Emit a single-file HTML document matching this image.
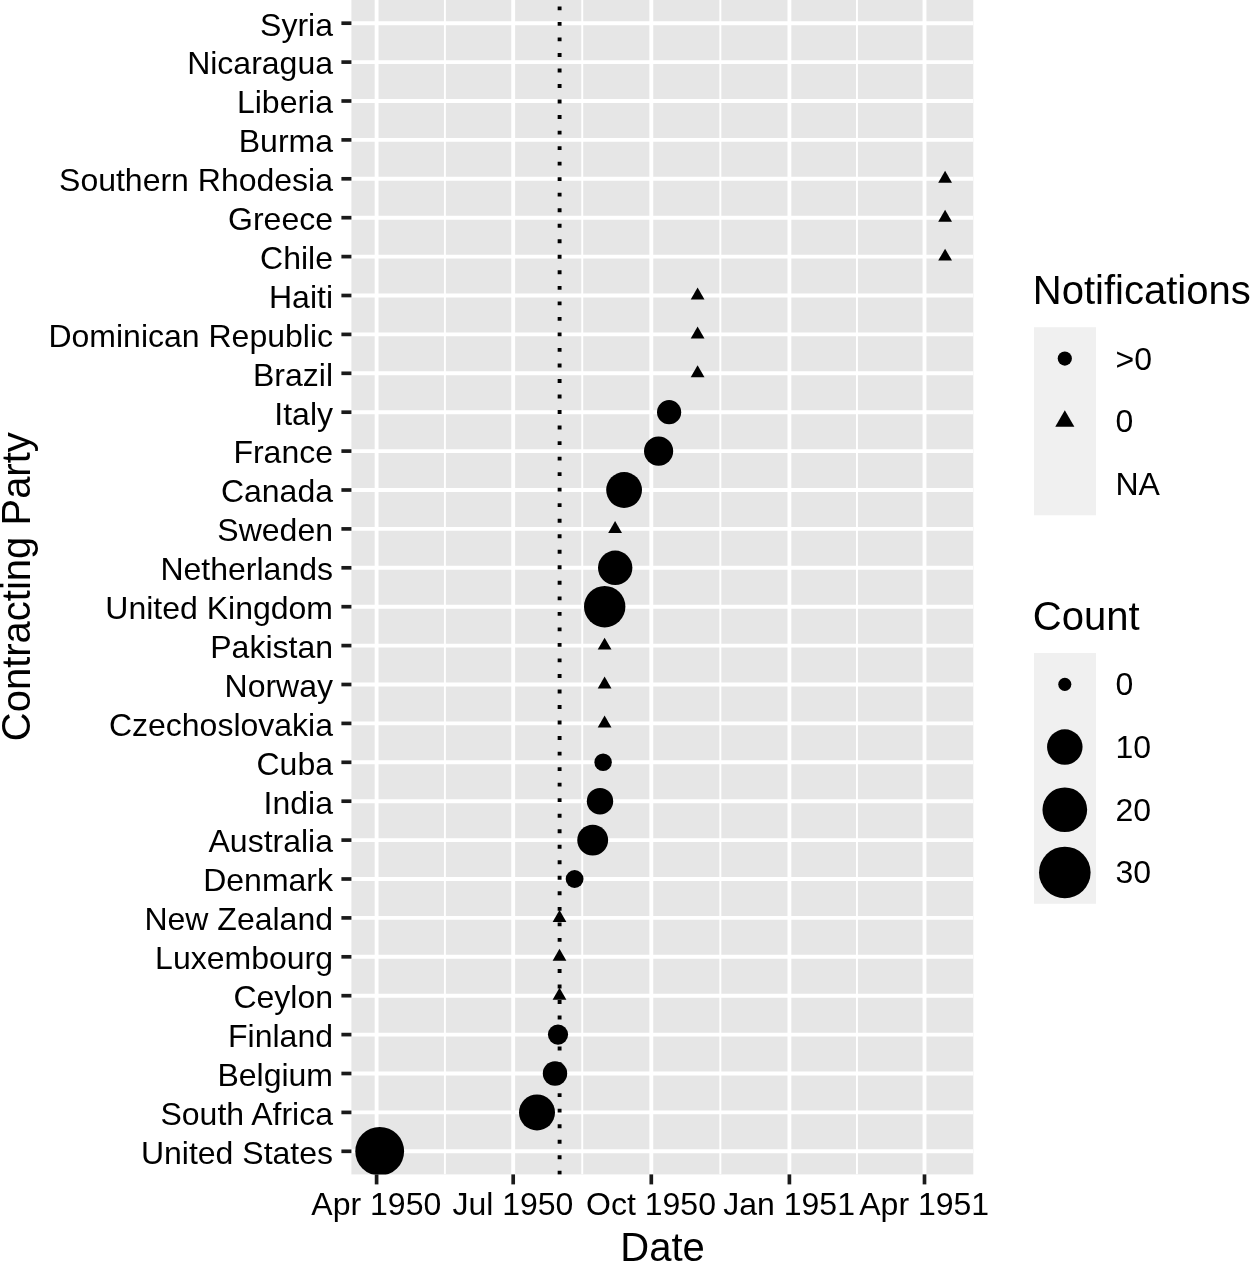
<!DOCTYPE html>
<html><head><meta charset="utf-8"><title>Contracting Party</title>
<style>html,body{margin:0;padding:0;background:#fff}svg{display:block}text{font-family:"Liberation Sans",Arial,Helvetica,sans-serif;fill:#000}.a{font-size:32px;fill:#000}.t{font-size:40px}</style></head><body>
<svg width="1250" height="1262" viewBox="0 0 1250 1262">
<rect width="1250" height="1262" fill="#fff"/>
<defs><clipPath id="cp"><rect x="351.4" y="0" width="621.9" height="1174.4"/></clipPath></defs>
<rect x="351.4" y="0" width="621.9" height="1174.4" fill="#e6e6e6"/>
<g clip-path="url(#cp)">
<g stroke="#fff" stroke-width="1.9375">
<line x1="444.90" x2="444.90" y1="0" y2="1174.4"/>
<line x1="582.25" x2="582.25" y1="0" y2="1174.4"/>
<line x1="720.35" x2="720.35" y1="0" y2="1174.4"/>
<line x1="856.95" x2="856.95" y1="0" y2="1174.4"/>
</g>
<g stroke="#fff" stroke-width="3.875">
<line x1="351.4" x2="973.3" y1="23.20" y2="23.20"/>
<line x1="351.4" x2="973.3" y1="62.10" y2="62.10"/>
<line x1="351.4" x2="973.3" y1="101.00" y2="101.00"/>
<line x1="351.4" x2="973.3" y1="139.90" y2="139.90"/>
<line x1="351.4" x2="973.3" y1="178.80" y2="178.80"/>
<line x1="351.4" x2="973.3" y1="217.70" y2="217.70"/>
<line x1="351.4" x2="973.3" y1="256.60" y2="256.60"/>
<line x1="351.4" x2="973.3" y1="295.50" y2="295.50"/>
<line x1="351.4" x2="973.3" y1="334.40" y2="334.40"/>
<line x1="351.4" x2="973.3" y1="373.30" y2="373.30"/>
<line x1="351.4" x2="973.3" y1="412.20" y2="412.20"/>
<line x1="351.4" x2="973.3" y1="451.10" y2="451.10"/>
<line x1="351.4" x2="973.3" y1="490.00" y2="490.00"/>
<line x1="351.4" x2="973.3" y1="528.90" y2="528.90"/>
<line x1="351.4" x2="973.3" y1="567.80" y2="567.80"/>
<line x1="351.4" x2="973.3" y1="606.70" y2="606.70"/>
<line x1="351.4" x2="973.3" y1="645.60" y2="645.60"/>
<line x1="351.4" x2="973.3" y1="684.50" y2="684.50"/>
<line x1="351.4" x2="973.3" y1="723.40" y2="723.40"/>
<line x1="351.4" x2="973.3" y1="762.30" y2="762.30"/>
<line x1="351.4" x2="973.3" y1="801.20" y2="801.20"/>
<line x1="351.4" x2="973.3" y1="840.10" y2="840.10"/>
<line x1="351.4" x2="973.3" y1="879.00" y2="879.00"/>
<line x1="351.4" x2="973.3" y1="917.90" y2="917.90"/>
<line x1="351.4" x2="973.3" y1="956.80" y2="956.80"/>
<line x1="351.4" x2="973.3" y1="995.70" y2="995.70"/>
<line x1="351.4" x2="973.3" y1="1034.60" y2="1034.60"/>
<line x1="351.4" x2="973.3" y1="1073.50" y2="1073.50"/>
<line x1="351.4" x2="973.3" y1="1112.40" y2="1112.40"/>
<line x1="351.4" x2="973.3" y1="1151.30" y2="1151.30"/>
<line x1="376.60" x2="376.60" y1="0" y2="1174.4"/>
<line x1="513.20" x2="513.20" y1="0" y2="1174.4"/>
<line x1="651.30" x2="651.30" y1="0" y2="1174.4"/>
<line x1="789.40" x2="789.40" y1="0" y2="1174.4"/>
<line x1="924.50" x2="924.50" y1="0" y2="1174.4"/>
</g>
<g fill="#000">
<polygon points="945.10,170.84 952.00,182.78 938.20,182.78"/>
<polygon points="945.10,209.74 952.00,221.68 938.20,221.68"/>
<polygon points="945.10,248.64 952.00,260.58 938.20,260.58"/>
<polygon points="697.60,287.54 704.50,299.48 690.70,299.48"/>
<polygon points="697.60,326.44 704.50,338.38 690.70,338.38"/>
<polygon points="697.60,365.34 704.50,377.28 690.70,377.28"/>
<circle cx="669.10" cy="412.20" r="12.10"/>
<circle cx="658.60" cy="451.10" r="14.60"/>
<circle cx="624.10" cy="490.00" r="17.90"/>
<polygon points="615.10,520.94 622.00,532.88 608.20,532.88"/>
<circle cx="615.20" cy="567.80" r="17.20"/>
<circle cx="604.70" cy="606.70" r="20.70"/>
<polygon points="604.60,637.64 611.50,649.58 597.70,649.58"/>
<polygon points="604.60,676.54 611.50,688.48 597.70,688.48"/>
<polygon points="604.60,715.44 611.50,727.38 597.70,727.38"/>
<circle cx="603.10" cy="762.30" r="8.75"/>
<circle cx="600.00" cy="801.20" r="13.20"/>
<circle cx="592.70" cy="840.10" r="15.45"/>
<circle cx="574.60" cy="879.00" r="8.90"/>
<polygon points="559.50,909.94 566.40,921.88 552.60,921.88"/>
<polygon points="559.50,948.84 566.40,960.78 552.60,960.78"/>
<polygon points="559.50,987.74 566.40,999.68 552.60,999.68"/>
<circle cx="558.00" cy="1034.60" r="10.10"/>
<circle cx="555.00" cy="1073.50" r="12.20"/>
<circle cx="537.00" cy="1112.40" r="18.00"/>
<circle cx="379.70" cy="1151.30" r="24.40"/>
</g>
<line x1="559.6" x2="559.6" y1="1174.7" y2="-5" stroke="#000" stroke-width="3.875" stroke-dasharray="3.881 11.644"/>
</g>
<g stroke="#1a1a1a" stroke-width="3.68">
<line x1="341.4" x2="351.4" y1="23.20" y2="23.20"/>
<line x1="341.4" x2="351.4" y1="62.10" y2="62.10"/>
<line x1="341.4" x2="351.4" y1="101.00" y2="101.00"/>
<line x1="341.4" x2="351.4" y1="139.90" y2="139.90"/>
<line x1="341.4" x2="351.4" y1="178.80" y2="178.80"/>
<line x1="341.4" x2="351.4" y1="217.70" y2="217.70"/>
<line x1="341.4" x2="351.4" y1="256.60" y2="256.60"/>
<line x1="341.4" x2="351.4" y1="295.50" y2="295.50"/>
<line x1="341.4" x2="351.4" y1="334.40" y2="334.40"/>
<line x1="341.4" x2="351.4" y1="373.30" y2="373.30"/>
<line x1="341.4" x2="351.4" y1="412.20" y2="412.20"/>
<line x1="341.4" x2="351.4" y1="451.10" y2="451.10"/>
<line x1="341.4" x2="351.4" y1="490.00" y2="490.00"/>
<line x1="341.4" x2="351.4" y1="528.90" y2="528.90"/>
<line x1="341.4" x2="351.4" y1="567.80" y2="567.80"/>
<line x1="341.4" x2="351.4" y1="606.70" y2="606.70"/>
<line x1="341.4" x2="351.4" y1="645.60" y2="645.60"/>
<line x1="341.4" x2="351.4" y1="684.50" y2="684.50"/>
<line x1="341.4" x2="351.4" y1="723.40" y2="723.40"/>
<line x1="341.4" x2="351.4" y1="762.30" y2="762.30"/>
<line x1="341.4" x2="351.4" y1="801.20" y2="801.20"/>
<line x1="341.4" x2="351.4" y1="840.10" y2="840.10"/>
<line x1="341.4" x2="351.4" y1="879.00" y2="879.00"/>
<line x1="341.4" x2="351.4" y1="917.90" y2="917.90"/>
<line x1="341.4" x2="351.4" y1="956.80" y2="956.80"/>
<line x1="341.4" x2="351.4" y1="995.70" y2="995.70"/>
<line x1="341.4" x2="351.4" y1="1034.60" y2="1034.60"/>
<line x1="341.4" x2="351.4" y1="1073.50" y2="1073.50"/>
<line x1="341.4" x2="351.4" y1="1112.40" y2="1112.40"/>
<line x1="341.4" x2="351.4" y1="1151.30" y2="1151.30"/>
<line x1="376.60" x2="376.60" y1="1174.4" y2="1184.4"/>
<line x1="513.20" x2="513.20" y1="1174.4" y2="1184.4"/>
<line x1="651.30" x2="651.30" y1="1174.4" y2="1184.4"/>
<line x1="789.40" x2="789.40" y1="1174.4" y2="1184.4"/>
<line x1="924.50" x2="924.50" y1="1174.4" y2="1184.4"/>
</g>
<g class="a" text-anchor="end">
<text x="333" y="35.50">Syria</text>
<text x="333" y="74.40">Nicaragua</text>
<text x="333" y="113.30">Liberia</text>
<text x="333" y="152.20">Burma</text>
<text x="333" y="191.10">Southern Rhodesia</text>
<text x="333" y="230.00">Greece</text>
<text x="333" y="268.90">Chile</text>
<text x="333" y="307.80">Haiti</text>
<text x="333" y="346.70">Dominican Republic</text>
<text x="333" y="385.60">Brazil</text>
<text x="333" y="424.50">Italy</text>
<text x="333" y="463.40">France</text>
<text x="333" y="502.30">Canada</text>
<text x="333" y="541.20">Sweden</text>
<text x="333" y="580.10">Netherlands</text>
<text x="333" y="619.00">United Kingdom</text>
<text x="333" y="657.90">Pakistan</text>
<text x="333" y="696.80">Norway</text>
<text x="333" y="735.70">Czechoslovakia</text>
<text x="333" y="774.60">Cuba</text>
<text x="333" y="813.50">India</text>
<text x="333" y="852.40">Australia</text>
<text x="333" y="891.30">Denmark</text>
<text x="333" y="930.20">New Zealand</text>
<text x="333" y="969.10">Luxembourg</text>
<text x="333" y="1008.00">Ceylon</text>
<text x="333" y="1046.90">Finland</text>
<text x="333" y="1085.80">Belgium</text>
<text x="333" y="1124.70">South Africa</text>
<text x="333" y="1163.60">United States</text>
</g>
<g class="a" text-anchor="middle">
<text x="376.30" y="1214.8">Apr 1950</text>
<text x="512.90" y="1214.8">Jul 1950</text>
<text x="651.00" y="1214.8">Oct 1950</text>
<text x="789.10" y="1214.8">Jan 1951</text>
<text x="924.20" y="1214.8">Apr 1951</text>
</g>
<text class="t" text-anchor="middle" x="662.5" y="1261">Date</text>
<text class="t" text-anchor="middle" transform="translate(30.2,586.7) rotate(-90)">Contracting Party</text>
<text class="t" x="1032.8" y="303.5">Notifications</text>
<rect x="1034.0" y="327.2" width="62.0" height="188.10000000000002" fill="#f0f0f0"/>
<circle cx="1064.8" cy="358.55" r="7.1"/>
<polygon points="1064.80,410.21 1074.36,426.77 1055.24,426.77"/>
<text class="a" x="1115.5" y="369.55">&gt;0</text>
<text class="a" x="1115.5" y="432.25">0</text>
<text class="a" x="1115.5" y="494.95">NA</text>
<text class="t" x="1032.8" y="629.7">Count</text>
<rect x="1034.0" y="653.0" width="62.0" height="250.8" fill="#f0f0f0"/>
<circle cx="1064.8" cy="684.35" r="6.55"/>
<text class="a" x="1115.5" y="695.35">0</text>
<circle cx="1064.8" cy="747.05" r="17.75"/>
<text class="a" x="1115.5" y="758.05">10</text>
<circle cx="1064.8" cy="809.75" r="22.35"/>
<text class="a" x="1115.5" y="820.75">20</text>
<circle cx="1064.8" cy="872.45" r="25.8"/>
<text class="a" x="1115.5" y="883.45">30</text>
</svg></body></html>
